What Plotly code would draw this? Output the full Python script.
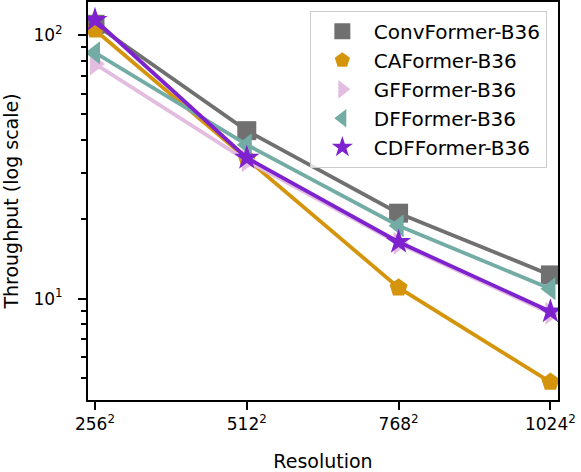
import plotly.graph_objects as go

resolutions = ["256<sup>2</sup>", "512<sup>2</sup>", "768<sup>2</sup>", "1024<sup>2</sup>"]
convformer = [110, 43.4, 21.1, 12.3]
caformer = [104.7, 34.0, 11.0, 4.82]
gfformer = [77.8, 33.4, 16.2, 8.8]
dfformer = [85.8, 38.4, 18.9, 10.9]
cdfformer = [114.2, 34.2, 16.4, 8.93]

series = [
    ("ConvFormer-B36", convformer, "#707070", "square", 19),
    ("CAFormer-B36", caformer, "#d4950c", "pentagon", 19),
    ("GFFormer-B36", gfformer, "#e2bde0", "triangle-right", 20),
    ("DFFormer-B36", dfformer, "#72aca4", "triangle-left", 20),
    ("CDFFormer-B36", cdfformer, "#7e22cf", "star", 19),
]

fig = go.Figure()
for name, vals, color, sym, size in series:
    fig.add_trace(go.Scatter(
        x=resolutions, y=vals, name=name, mode="lines+markers",
        line=dict(color=color, width=3.8),
        marker=dict(symbol=sym, size=size, color=color, line=dict(width=0)),
        showlegend=False,
    ))
# legend entries: markers only
for name, vals, color, sym, size in series:
    fig.add_trace(go.Scatter(
        x=[None], y=[None], name=name, mode="markers",
        marker=dict(symbol=sym, size=size, color=color, line=dict(width=0)),
        showlegend=True,
    ))

font = "DejaVu Sans"
fig.update_layout(
    width=581, height=472,
    margin=dict(l=88, r=23, t=2, b=72, autoexpand=False),
    plot_bgcolor="white", paper_bgcolor="white",
    font=dict(family=font, size=19, color="black"),
    showlegend=True,
    legend=dict(
        x=0.472, y=0.978, xanchor="left", yanchor="top",
        bgcolor="rgba(255,255,255,0.8)", bordercolor="#cccccc", borderwidth=1,
        font=dict(family=font, size=20),
        itemwidth=53,
        tracegroupgap=0,
    ),
)
fig.update_xaxes(
    type="category", range=[-0.046, 3.05], automargin=False,
    showline=True, linecolor="black", linewidth=2, mirror=True,
    ticks="outside", ticklen=8, tickwidth=2, tickcolor="black",
    showgrid=False, zeroline=False,
    title=dict(text="Resolution", standoff=23, font=dict(size=19)),
    tickfont=dict(size=17),
)
fig.update_yaxes(
    type="log", range=[0.615, 2.126], automargin=False,
    showline=True, linecolor="black", linewidth=2, mirror=True,
    ticks="outside", ticklen=8, tickwidth=2, tickcolor="black",
    tickmode="array", tickvals=[10, 100], ticktext=["10<sup>1</sup>", "10<sup>2</sup>"],
    minor=dict(ticks="outside", ticklen=5, tickwidth=1.5, tickcolor="black",
               tickmode="array", tickvals=[5, 6, 7, 8, 9, 20, 30, 40, 50, 60, 70, 80, 90]),
    ticklabelstandoff=12,
    showgrid=False, zeroline=False,
    title=dict(text="Throughput (log scale)", standoff=23, font=dict(size=19)),
    tickfont=dict(size=17),
)

fig.write_html("out.html", config={"displayModeBar": False},
               post_script="document.body.style.margin='0';")
